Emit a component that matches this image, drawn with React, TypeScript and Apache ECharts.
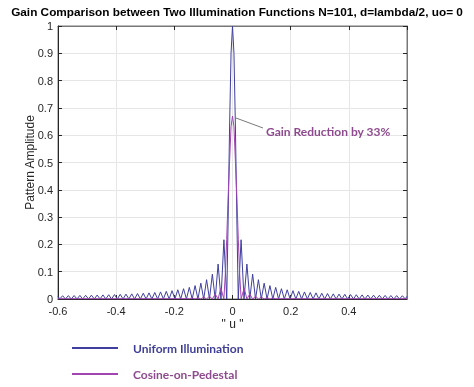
import React, { useEffect, useRef } from 'react';
import * as echarts from 'echarts';

const titleText = 'Gain Comparison between Two Illumination Functions N=101, d=lambda/2, uo= 0';
const uniformName = 'Uniform Illumination';
const cosineName = 'Cosine-on-Pedestal';
const annotationText = 'Gain Reduction by 33%';

// [u, amplitude] (nulls and lobe peaks)
const uniformPattern: [number, number][] = [
  [-0.6, 0.010],
  [-0.5941, 0], [-0.5842, 0.0120],
  [-0.5743, 0], [-0.5644, 0.0124],
  [-0.5545, 0], [-0.5446, 0.0127],
  [-0.5347, 0], [-0.5248, 0.0131],
  [-0.5149, 0], [-0.5050, 0.0135],
  [-0.4950, 0], [-0.4851, 0.0140],
  [-0.4752, 0], [-0.4653, 0.0145],
  [-0.4554, 0], [-0.4455, 0.0150],
  [-0.4356, 0], [-0.4257, 0.0156],
  [-0.4158, 0], [-0.4059, 0.0163],
  [-0.3960, 0], [-0.3861, 0.0171],
  [-0.3762, 0], [-0.3663, 0.0179],
  [-0.3564, 0], [-0.3465, 0.0188],
  [-0.3366, 0], [-0.3267, 0.0199],
  [-0.3168, 0], [-0.3069, 0.0211],
  [-0.2970, 0], [-0.2871, 0.0225],
  [-0.2772, 0], [-0.2673, 0.0240],
  [-0.2574, 0], [-0.2475, 0.0259],
  [-0.2376, 0], [-0.2277, 0.0280],
  [-0.2178, 0], [-0.2079, 0.0306],
  [-0.1980, 0], [-0.1881, 0.0338],
  [-0.1782, 0], [-0.1683, 0.0377],
  [-0.1584, 0], [-0.1485, 0.0426],
  [-0.1386, 0], [-0.1287, 0.0491],
  [-0.1188, 0], [-0.1089, 0.0579],
  [-0.0990, 0], [-0.0891, 0.0707],
  [-0.0792, 0], [-0.0693, 0.0910],
  [-0.0594, 0], [-0.0495, 0.1280],
  [-0.0396, 0], [-0.0295, 0.2170],
  [-0.0198, 0], [-0.0150, 0.29], [-0.0100, 0.63], [-0.0050, 0.90],
  [0, 1],
  [0.0050, 0.90], [0.0100, 0.63], [0.0150, 0.29], [0.0198, 0],
  [0.0295, 0.2170], [0.0396, 0],
  [0.0495, 0.1280], [0.0594, 0],
  [0.0693, 0.0910], [0.0792, 0],
  [0.0891, 0.0707], [0.0990, 0],
  [0.1089, 0.0579], [0.1188, 0],
  [0.1287, 0.0491], [0.1386, 0],
  [0.1485, 0.0426], [0.1584, 0],
  [0.1683, 0.0377], [0.1782, 0],
  [0.1881, 0.0338], [0.1980, 0],
  [0.2079, 0.0306], [0.2178, 0],
  [0.2277, 0.0280], [0.2376, 0],
  [0.2475, 0.0259], [0.2574, 0],
  [0.2673, 0.0240], [0.2772, 0],
  [0.2871, 0.0225], [0.2970, 0],
  [0.3069, 0.0211], [0.3168, 0],
  [0.3267, 0.0199], [0.3366, 0],
  [0.3465, 0.0188], [0.3564, 0],
  [0.3663, 0.0179], [0.3762, 0],
  [0.3861, 0.0171], [0.3960, 0],
  [0.4059, 0.0163], [0.4158, 0],
  [0.4257, 0.0156], [0.4356, 0],
  [0.4455, 0.0150], [0.4554, 0],
  [0.4653, 0.0145], [0.4752, 0],
  [0.4851, 0.0140], [0.4950, 0],
  [0.5050, 0.0135], [0.5149, 0],
  [0.5248, 0.0131], [0.5347, 0],
  [0.5446, 0.0127], [0.5545, 0],
  [0.5644, 0.0124], [0.5743, 0],
  [0.5842, 0.0120], [0.5941, 0],
  [0.6, 0.010],
];

const cosinePattern: [number, number][] = [
  [-0.6, 0.001], [-0.1485, 0.001],
  [-0.1386, 0.004], [-0.1287, 0],
  [-0.1188, 0.005], [-0.1089, 0],
  [-0.0990, 0.007], [-0.0891, 0],
  [-0.0792, 0.010], [-0.0693, 0],
  [-0.0594, 0.018], [-0.0495, 0],
  [-0.0400, 0.040], [-0.0297, 0],
  [-0.025, 0.085], [-0.020, 0.217], [-0.015, 0.374], [-0.010, 0.503], [-0.005, 0.631],
  [0, 0.67],
  [0.005, 0.631], [0.010, 0.503], [0.015, 0.374], [0.020, 0.217], [0.025, 0.085],
  [0.0297, 0], [0.0400, 0.040],
  [0.0495, 0], [0.0594, 0.018],
  [0.0693, 0], [0.0792, 0.010],
  [0.0891, 0], [0.0990, 0.007],
  [0.1089, 0], [0.1188, 0.005],
  [0.1287, 0], [0.1386, 0.004],
  [0.1485, 0.001], [0.6, 0.001],
];

const BLUE = '#3f3fa0';
const PURPLE = '#a245b2';
const AXIS = '#262626';
const FONT = 'Liberation Sans, Arial, sans-serif';
const LEG_FONT = 'Lato, Open Sans, sans-serif';

const legendBase = {
  orient: 'vertical',
  left: 67,
  icon: 'rect',
  itemWidth: 46,
  itemHeight: 2,
  selectedMode: false,
  textStyle: { fontFamily: LEG_FONT, fontWeight: 'bold', fontSize: 12, lineHeight: 14, padding: [0, 0, 0, 10] },
};

export default function App() {
  const ref = useRef<HTMLDivElement>(null);
  useEffect(() => {
    const chart = echarts.init(ref.current!, null, { renderer: 'svg' });
    chart.setOption({
      animation: false,
      title: {
        text: titleText,
        left: 'center',
        top: 5,
        padding: 0,
        textStyle: { fontFamily: FONT, fontWeight: 'bold', fontSize: 11.8, lineHeight: 13, color: '#000' },
      },
      grid: { left: 58, right: 67, top: 26, bottom: 88, show: true, borderColor: '#777', borderWidth: 1 },
      legend: [
        { ...legendBase, top: 336, data: [{ name: uniformName, textStyle: { color: '#3e3e96' } }] },
        { ...legendBase, top: 362, data: [{ name: cosineName, textStyle: { color: '#8e4a8e' } }] },
      ],
      xAxis: [
        {
          type: 'value',
          min: -0.6,
          max: 0.6,
          interval: 0.2,
          name: '" u "',
          nameLocation: 'middle',
          nameGap: 19,
          nameMoveOverlap: false,
          nameTextStyle: { fontFamily: FONT, fontSize: 12, color: AXIS },
          axisLine: { show: true, onZero: false, lineStyle: { color: AXIS } },
          axisTick: { show: true, inside: true, length: 4, lineStyle: { color: AXIS } },
          axisLabel: { showMaxLabel: false, fontFamily: FONT, fontSize: 11, color: AXIS, margin: 6 },
          splitLine: { show: true, lineStyle: { color: '#e6e6e6' } },
        },
        {
          type: 'value',
          position: 'top',
          min: -0.6,
          max: 0.6,
          interval: 0.2,
          axisLine: { show: true, onZero: false, lineStyle: { color: '#777' } },
          axisTick: { show: true, inside: true, length: 4, lineStyle: { color: AXIS } },
          axisLabel: { show: false },
          splitLine: { show: false },
        },
      ],
      yAxis: [
        {
          type: 'value',
          min: 0,
          max: 1,
          interval: 0.1,
          name: 'Pattern Amplitude',
          nameLocation: 'middle',
          nameGap: 22,
          nameMoveOverlap: false,
          nameTextStyle: { fontFamily: FONT, fontSize: 12, color: AXIS },
          axisLine: { show: true, onZero: false, lineStyle: { color: AXIS } },
          axisTick: { show: true, inside: true, length: 4, lineStyle: { color: AXIS } },
          axisLabel: { fontFamily: FONT, fontSize: 11, lineHeight: 12, color: AXIS, margin: 5 },
          splitLine: { show: true, lineStyle: { color: '#e6e6e6' } },
        },
        {
          type: 'value',
          position: 'right',
          min: 0,
          max: 1,
          interval: 0.1,
          axisLine: { show: true, onZero: false, lineStyle: { color: '#777' } },
          axisTick: { show: true, inside: true, length: 4, lineStyle: { color: AXIS } },
          axisLabel: { show: false },
          splitLine: { show: false },
        },
      ],
      series: [
        {
          name: uniformName,
          type: 'line',
          data: uniformPattern,
          showSymbol: false,
          color: BLUE,
          lineStyle: { width: 1, color: BLUE },
          z: 2,
        },
        {
          name: cosineName,
          type: 'line',
          data: cosinePattern,
          showSymbol: false,
          color: PURPLE,
          lineStyle: { width: 1, color: PURPLE },
          z: 3,
        },
      ],
      graphic: [
        {
          type: 'line',
          shape: { x1: 236, y1: 118, x2: 263, y2: 128 },
          style: { stroke: '#7a7a7a', lineWidth: 1 },
          z: 10,
        },
        {
          type: 'text',
          x: 266,
          y: 131,
          style: {
            text: annotationText,
            fill: '#8e4a8e',
            font: 'bold 12px Lato, Open Sans, sans-serif',
            verticalAlign: 'middle',
          },
          z: 10,
        },
      ],
    });
    return () => chart.dispose();
  }, []);
  return <div ref={ref} style={{ position: 'fixed', left: 0, top: 0, width: 474, height: 387 }} />;
}
